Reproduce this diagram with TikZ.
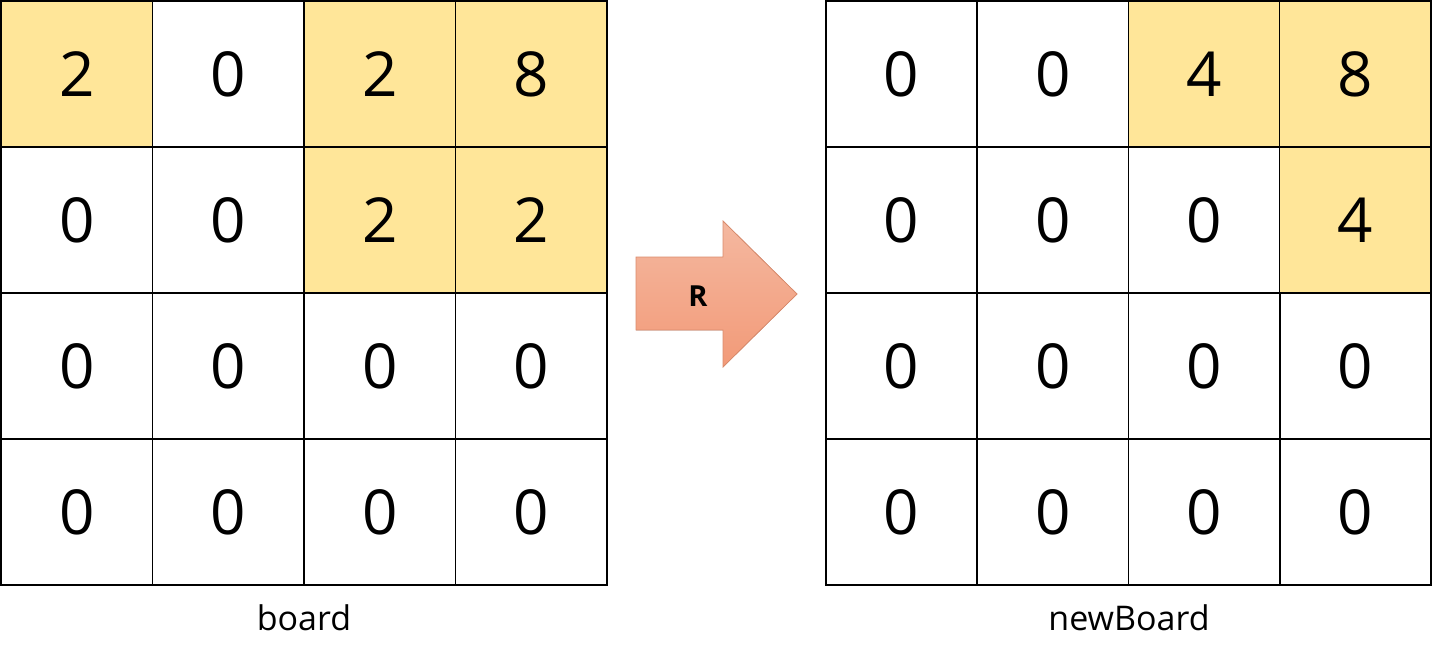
\documentclass[tikz,border=0pt]{standalone}
\usepackage{fontspec}
\setmainfont{Open Sans}
\begin{document}
\begin{tikzpicture}[x=1pt,y=-1pt,
 cell/.style={draw=black,line width=1.5pt,minimum width=151.5pt,minimum height=146pt,inner sep=0pt,font=\fontsize{62}{62}\selectfont},
 lab/.style={font=\fontsize{34}{34}\selectfont}]
\definecolor{hlc}{HTML}{FFE699}
\definecolor{arA}{HTML}{F4B8A0}
\definecolor{arB}{HTML}{F29A78}
\useasboundingbox (0,0) rectangle (1434,662);
\foreach \r/\row in {1/{2,0,2,8},2/{0,0,2,2},3/{0,0,0,0},4/{0,0,0,0}}{
 \foreach \v [count=\c] in \row {
  \node[cell] (L\r\c) at ({1+151.5*(\c-0.5)},{1+146*(\r-0.5)}) {\v};
 }}
\foreach \r/\row in {1/{0,0,4,8},2/{0,0,0,4},3/{0,0,0,0},4/{0,0,0,0}}{
 \foreach \v [count=\c] in \row {
  \node[cell] (N\r\c) at ({826+151.25*(\c-0.5)},{1+146*(\r-0.5)}) {\v};
 }}
\foreach \n/\v in {L11/2,L13/2,L14/8,L23/2,L24/2,N13/4,N14/8,N24/4}{
 \node[cell,fill=hlc] at (\n) {\v};
}
\node[lab] (b1) at (304,618) {board};
\node[lab] (b2) at (1129,618) {newBoard};
\fill[top color=arA,bottom color=arB,draw=arB!90!black,line width=0.8pt]
 (636,257) -- (723,257) -- (723,221) -- (797,294) -- (723,367) -- (723,330) -- (636,330) -- cycle;
\node[font=\bfseries\fontsize{29}{29}\selectfont] (R) at (698,296) {R};
\end{tikzpicture}
\end{document}
